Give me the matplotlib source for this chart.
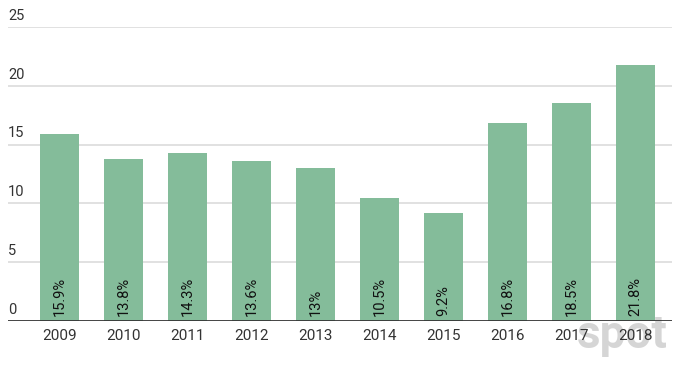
import matplotlib
matplotlib.use('Agg')
from matplotlib import pyplot as plt

plt.rcParams['font.family'] = ['Roboto', 'DejaVu Sans']

years = ['2009', '2010', '2011', '2012', '2013', '2014', '2015', '2016', '2017', '2018']
values = [15.9, 13.8, 14.3, 13.6, 13.0, 10.5, 9.2, 16.8, 18.5, 21.8]
labels = ['15.9%', '13.8%', '14.3%', '13.6%', '13%', '10.5%', '9.2%', '16.8%', '18.5%', '21.8%']
yticks = [0, 5, 10, 15, 20, 25]

fig = plt.figure(figsize=(6.8, 3.7), dpi=100)
ax = fig.add_axes([8 / 680, 1 - 321 / 370, 664 / 680, 294 / 370])
ax.patch.set_visible(False)

x = list(range(len(years)))
ax.bar(x, values, width=0.61, color='#84bc9a', zorder=2)
ax.set_xlim(-0.805, 9.57)
ax.set_ylim(0, 25)

for t in yticks[1:]:
    ax.axhline(t, color='#dcdcdc', lw=1.2, zorder=1)
for t in yticks:
    ax.text(0.0, t + 0.35, str(t), transform=ax.get_yaxis_transform(),
            ha='left', va='bottom', fontsize=10.5, color='#333333')
ax.axhline(0, color='#333333', lw=2, zorder=3)

for xi, lab in zip(x, labels):
    ax.text(xi, 0.45, lab, rotation=90, ha='center', va='bottom',
            fontsize=10.5, color='#111111', zorder=4)

ax.set_xticks(x)
ax.set_xticklabels(years, fontsize=11, color='#333333')
ax.tick_params(axis='x', length=0, pad=6)
ax.set_yticks([])
for s in ax.spines.values():
    s.set_visible(False)

# watermark sits behind the axes so the year labels stay on top
fig.text(668 / 680, 1 - 348 / 370, 'spot', ha='right', va='baseline',
         fontsize=33, fontweight='bold', color='#c8c8c8', alpha=0.75, zorder=-1)

fig.savefig('out.png', dpi=100)
